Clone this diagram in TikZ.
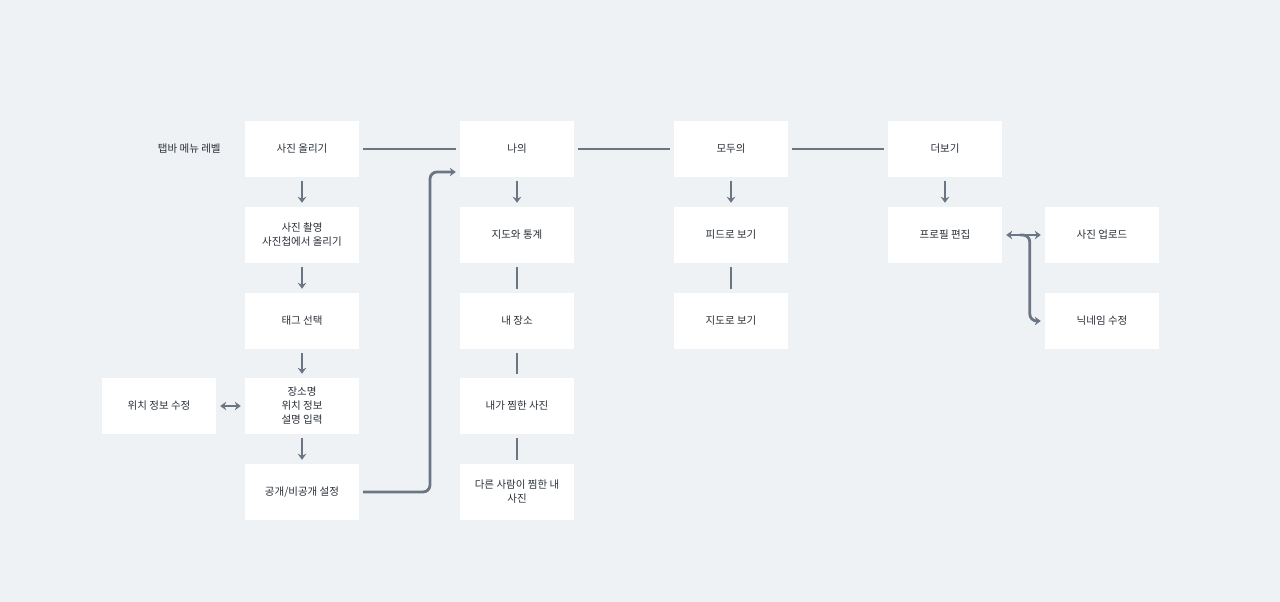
\documentclass[tikz,border=0pt]{standalone}
\usepackage{fontspec}
\setmainfont{Noto Sans CJK KR}
\usetikzlibrary{positioning,arrows.meta}
\definecolor{bgcol}{HTML}{EFF2F5}
\definecolor{linecol}{HTML}{6B7684}
\definecolor{txtcol}{HTML}{2A3038}
\tikzstyle{menu} = [fill=white, minimum width=114pt, minimum height=56pt, inner sep=2pt, align=center, text=txtcol, font=\fontsize{10.5}{14}\selectfont]
\tikzstyle{conn} = [draw=linecol, line width=2.8pt, shorten <=4pt, shorten >=4pt]
\tikzstyle{flow} = [conn, -{Stealth[length=6pt,width=8.5pt]}]
\tikzstyle{both} = [conn, {Stealth[length=6pt,width=8.5pt]}-{Stealth[length=6pt,width=8.5pt]}]

\begin{document}
\begin{tikzpicture}[x=1pt, y=-1pt]
			\fill[bgcol] (0,0) rectangle (1280,602);
			% tab bar level
			\node[menu] (up) at (302,149) {사진 올리기};
			\node[menu] (na) at (517,149) {나의};
			\node[menu] (modu) at (731,149) {모두의};
			\node[menu] (more) at (945,149) {더보기};
			\node[left = 24pt of up, inner sep=0pt, text=txtcol, font=\fontsize{10.5}{14}\selectfont] (tab) {탭바 메뉴 레벨};
			% upload
			\node[menu] (shoot) at (302,235) {사진 촬영\\사진첩에서 올리기};
			\node[menu] (tag) at (302,321) {태그 선택};
			\node[menu] (place) at (302,406) {장소명\\위치 정보\\설명 입력};
			\node[menu] (locedit) at (159,406) {위치 정보 수정};
			\node[menu] (gong) at (302,492) {공개/비공개 설정};
			% mine
			\node[menu] (stats) at (517,235) {지도와 통계};
			\node[menu] (myplace) at (517,321) {내 장소};
			\node[menu] (liked) at (517,406) {내가 찜한 사진};
			\node[menu] (others) at (517,492) {다른 사람이 찜한 내\\사진};
			% everyone
			\node[menu] (feed) at (731,235) {피드로 보기};
			\node[menu] (mapview) at (731,321) {지도로 보기};
			% more
			\node[menu] (profile) at (945,235) {프로필 편집};
			\node[menu] (upload) at (1102,235) {사진 업로드};
			\node[menu] (nick) at (1102,321) {닉네임 수정};
			\coordinate (turn) at (430,172);
			\coordinate (fork) at (1020,235);
			\draw[conn] (up) -- (na);
			\draw[conn] (na) -- (modu);
			\draw[conn] (modu) -- (more);
			\draw[flow] (up) -- (shoot);
			\draw[flow] (shoot) -- (tag);
			\draw[flow] (tag) -- (place);
			\draw[flow] (place) -- (gong);
			\draw[both] (locedit) -- (place);
			\draw[flow, rounded corners=7pt] (gong.east) -| (turn) -- (turn -| na.west);
			\draw[flow] (na) -- (stats);
			\draw[conn] (stats) -- (myplace);
			\draw[conn] (myplace) -- (liked);
			\draw[conn] (liked) -- (others);
			\draw[flow] (modu) -- (feed);
			\draw[conn] (feed) -- (mapview);
			\draw[flow] (more) -- (profile);
			\draw[both] (profile) -- (upload);
			\draw[flow, rounded corners=7pt, shorten <=0pt] (fork) -| ([xshift=-15pt]nick.west) -- (nick.west);
		\end{tikzpicture}
\end{document}
